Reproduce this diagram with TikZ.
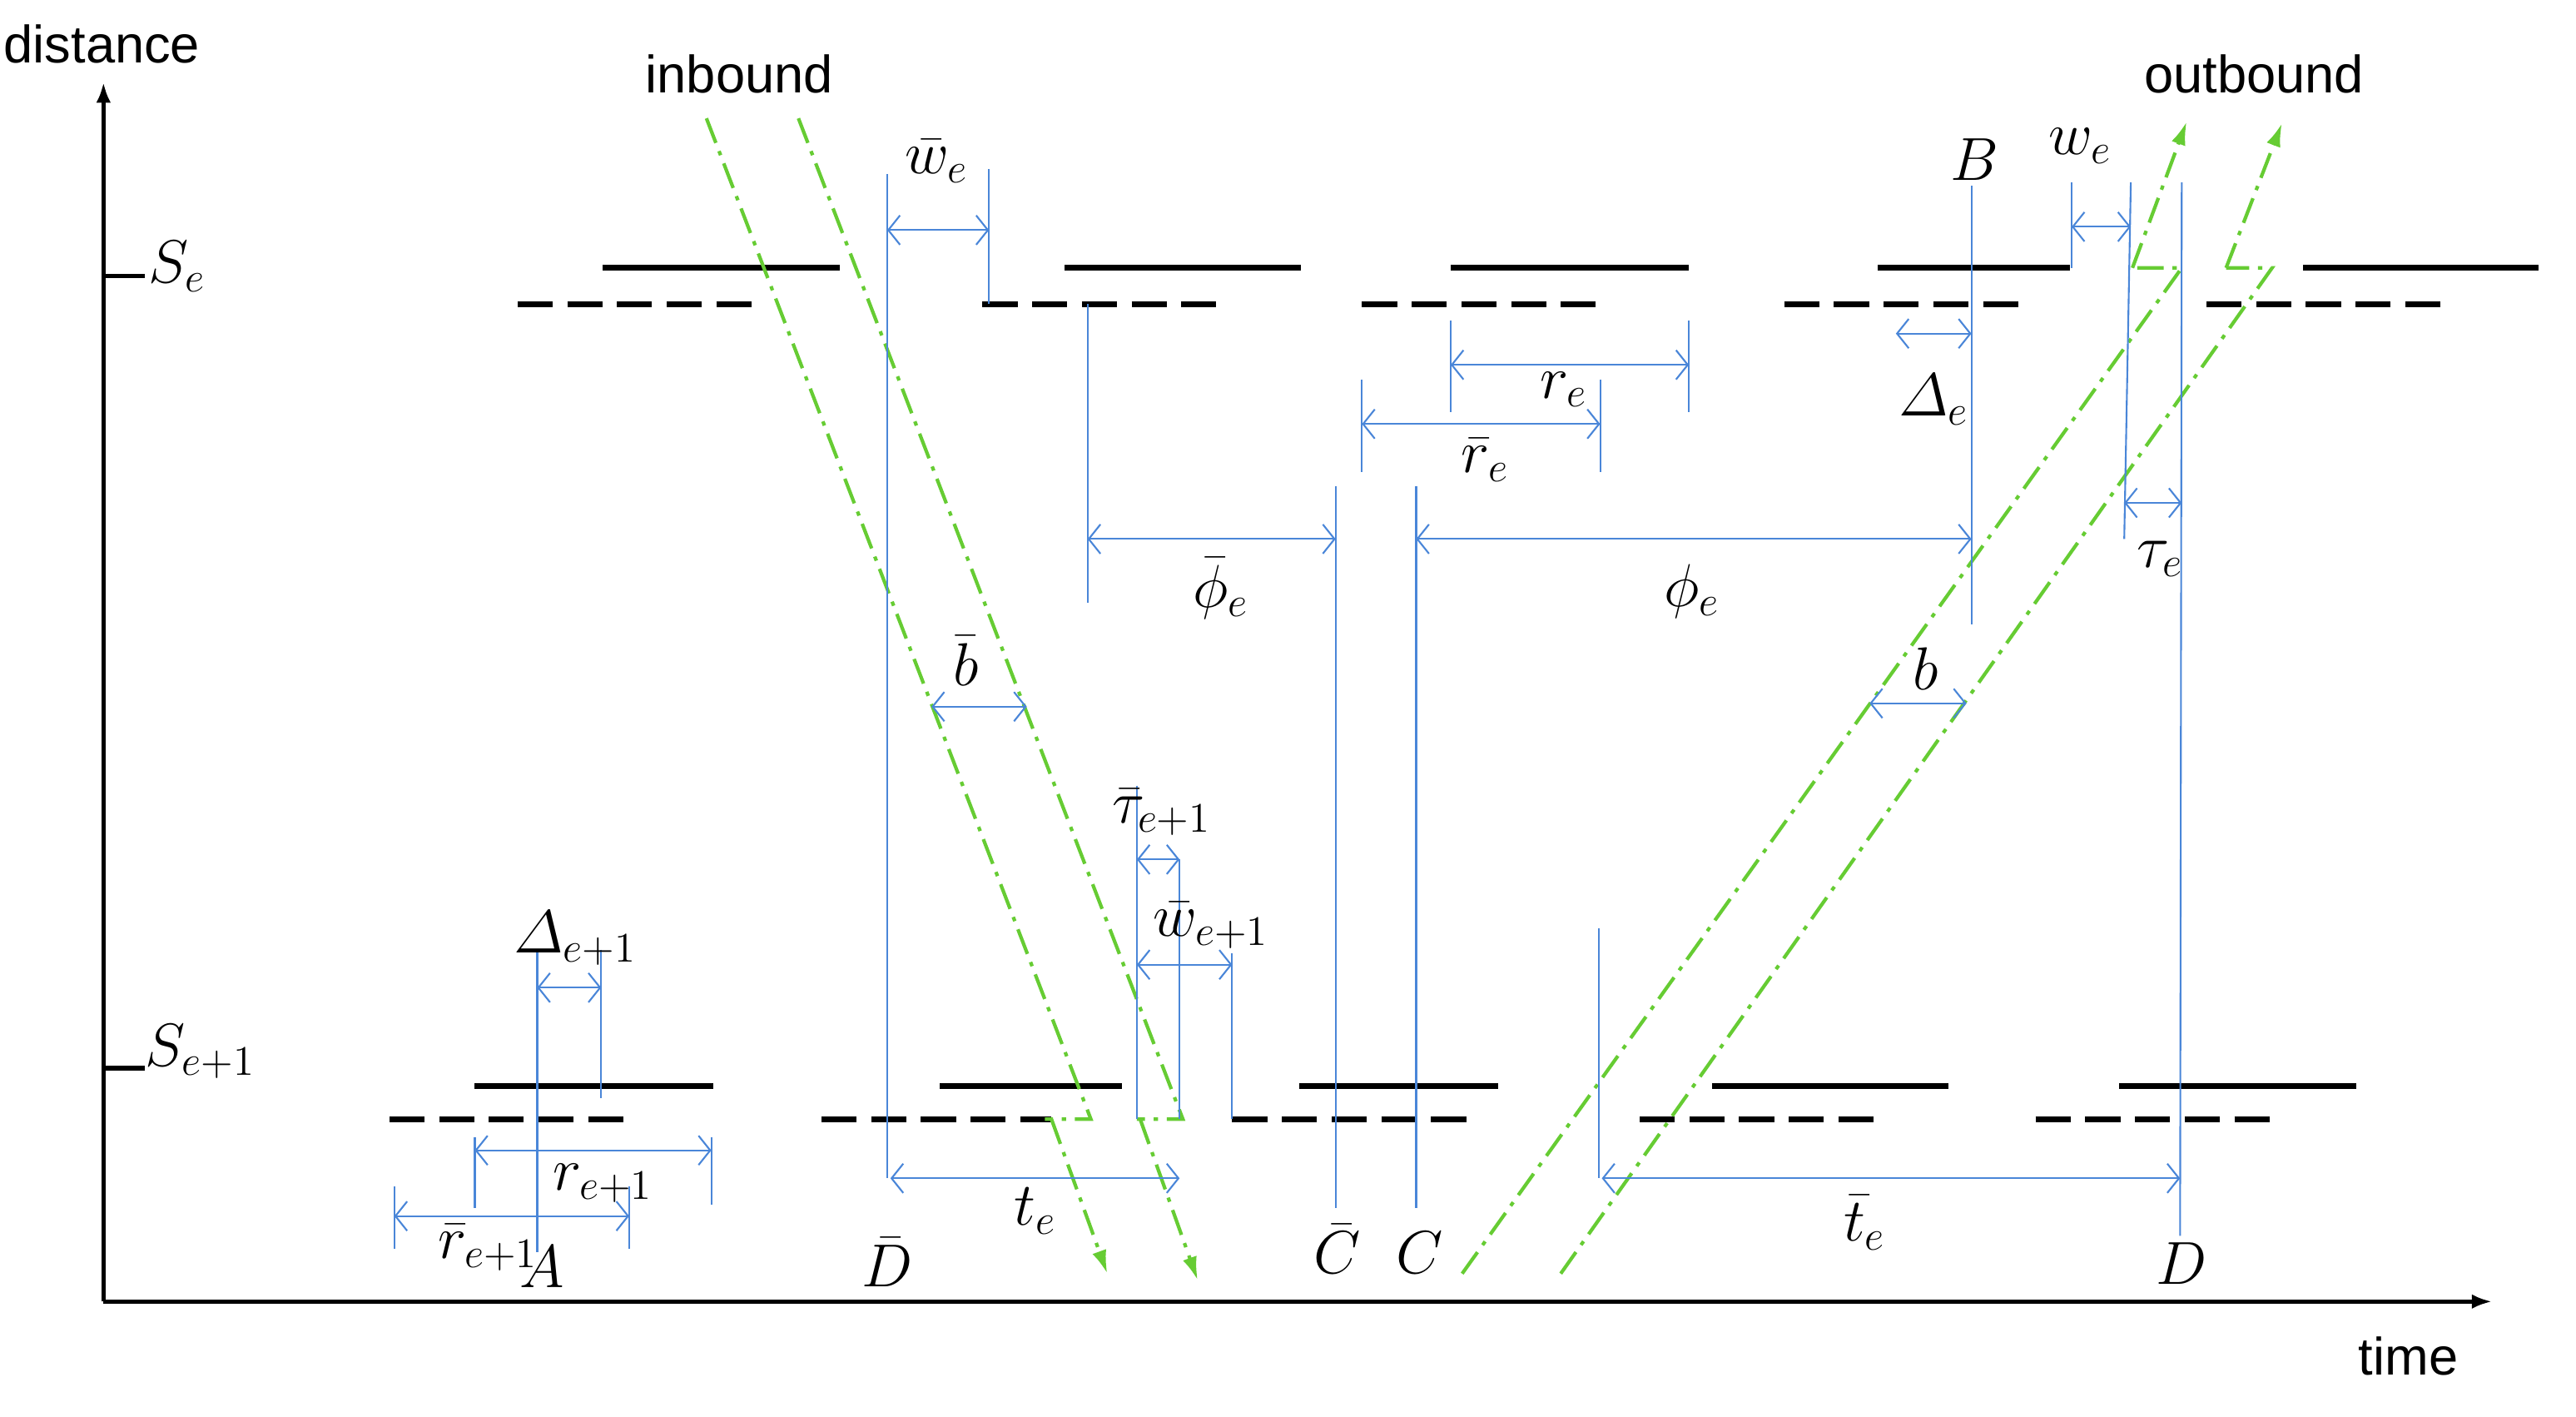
\documentclass[tikz,border=0pt]{standalone}
\usepackage{fontspec}
\setsansfont{Liberation Sans}
\usetikzlibrary{arrows.meta}
\newcommand{\myDelta}{\mathchar"0101}
\definecolor{bl}{HTML}{4A86D8}
\definecolor{gr}{HTML}{66CC33}
\tikzset{
  axis/.style={line width=1.6pt,-{Latex[length=7pt,width=5pt]}},
  sol/.style={line width=2pt},
  dsh/.style={line width=2pt,dash pattern=on 12pt off 5pt},
  bline/.style={bl,line width=0.6pt},
  barr/.style={bl,line width=0.6pt,{Straight Barb[length=4pt,width=10pt]}-{Straight Barb[length=4pt,width=10pt]}},
  grn/.style={gr,line width=1.2pt,dash pattern=on 9pt off 3pt on 1.5pt off 3pt},
  grnarr/.style={grn,-{Latex[length=8pt,width=5pt]}},
  lbl/.style={font=\fontsize{20}{22}\selectfont},
  wrd/.style={font=\sffamily\fontsize{18}{22}\selectfont},
}
\begin{document}
\begin{tikzpicture}[x=0.01974cm,y=-0.01974cm]
\useasboundingbox (0,0) rectangle (1568,862);
% axes
\coordinate (O) at (63,792);
\coordinate (Ytop) at (63,50);
\coordinate (Xend) at (1517,792);
\draw[axis] (O) -- (Ytop);
\draw[axis] (O) -- (Xend);
\node[wrd] (dist) at (62,27) {distance};
\node[wrd] (time) at (1466,825) {time};
\node[wrd] (inb) at (450,45) {inbound};
\node[wrd] (outb) at (1372,45) {outbound};
\draw[line width=1.6pt] (63,168) -- (88,168);
\draw[line width=1.6pt] (63,650) -- (88,650);
\node[lbl] (se) at (108,162) {$S_e$};
\node[lbl] (se1) at (122,640) {$S_{e+1}$};
% black lines top
\foreach \a/\b in {367/511,648/792,883/1028,1143/1260,1402/1545} \draw[sol] (\a,163) -- (\b,163);
\foreach \a/\b in {315/460,598/740,829/973,1086/1230,1343/1487} \draw[dsh] (\a,185) -- (\b,185);
% black lines bottom
\foreach \a/\b in {289/434,572/683,791/912,1042/1186,1290/1434} \draw[sol] (\a,661) -- (\b,661);
\foreach \a/\b in {237/383,500/640,750/900,998/1142,1239/1383} \draw[dsh] (\a,681) -- (\b,681);
% green trajectories
\draw[grn] (430,72) -- (664,681) -- (636,681);
\draw[grnarr] (640,681) -- (674,775);
\draw[grn] (486,72) -- (720,681) -- (692,681);
\draw[grnarr] (694,681) -- (729,779);
\draw[grn] (890,775) -- (1328,163) -- (1298,163);
\draw[grnarr] (1298,163) -- (1331,74);
\draw[grn] (950,775) -- (1383,163) -- (1355,163);
\draw[grnarr] (1355,163) -- (1389,75);
% blue verticals
\draw[bline] (540,106) -- (540,717);
\draw[bline] (602,103) -- (602,185);
\draw[bline] (662,185) -- (662,367);
\draw[bline] (813,296) -- (813,735);
\draw[bline] (862,296) -- (862,735);
\draw[bline] (829,231) -- (829,287);
\draw[bline] (974,231) -- (974,287);
\draw[bline] (883,195) -- (883,251);
\draw[bline] (1028,195) -- (1028,251);
\draw[bline] (1200,113) -- (1200,380);
\draw[bline] (1261,111) -- (1261,163);
\draw[bline] (1297,111) -- (1293,328);
\draw[bline] (1328,111) -- (1327,752);
\draw[bline] (973,565) -- (973,717);
\draw[bline] (692,478) -- (692,681);
\draw[bline] (718,523) -- (718,681);
\draw[bline] (750,580) -- (750,681);
\draw[bline] (327,578) -- (327,762);
\draw[bline] (366,578) -- (366,668);
\draw[bline] (289,692) -- (289,735);
\draw[bline] (433,692) -- (433,733);
\draw[bline] (240,722) -- (240,760);
\draw[bline] (383,722) -- (383,760);
% blue arrows
\draw[barr] (540,140) -- (602,140);
\draw[barr] (662,328) -- (813,328);
\draw[barr] (829,258) -- (974,258);
\draw[barr] (883,222) -- (1028,222);
\draw[barr] (862,328) -- (1200,328);
\draw[barr] (1154,203) -- (1200,203);
\draw[barr] (1261,138) -- (1297,138);
\draw[barr] (1293,306) -- (1328,306);
\draw[barr] (567,430) -- (625,430);
\draw[barr] (1138,428) -- (1197,428);
\draw[barr] (975,717) -- (1327,717);
\draw[barr] (542,717) -- (718,717);
\draw[barr] (692,523) -- (718,523);
\draw[barr] (692,587) -- (750,587);
\draw[barr] (327,601) -- (366,601);
\draw[barr] (289,700) -- (433,700);
\draw[barr] (240,740) -- (383,740);
% labels
\node[lbl] (lwb) at (570,98) {$\bar{w}_e$};
\node[lbl] (lpb) at (743,358) {$\bar{\phi}_e$};
\node[lbl] (lrb) at (904,280) {$\bar{r}_e$};
\node[lbl] (lr) at (952,237) {$r_e$};
\node[lbl] (lp) at (1030,360) {$\phi_e$};
\node[lbl] (lB) at (1202,97) {$B$};
\node[lbl] (lw) at (1266,89) {$w_e$};
\node[lbl] (lD) at (1177,243) {$\myDelta_e$};
\node[lbl] (lt) at (1315,340) {$\tau_e$};
\node[lbl] (lbb) at (588,402) {$\bar{b}$};
\node[lbl] (lb) at (1172,407) {$b$};
\node[lbl] (ltb) at (707,494) {$\bar{\tau}_{e+1}$};
\node[lbl] (lwb1) at (737,563) {$\bar{w}_{e+1}$};
\node[lbl] (lD1) at (350,571) {$\myDelta_{e+1}$};
\node[lbl] (lr1) at (367,720) {$r_{e+1}$};
\node[lbl] (lrb1) at (297,759) {$\bar{r}_{e+1}$};
\node[lbl] (lA) at (330,771) {$A$};
\node[lbl] (lDb) at (540,768) {$\bar{D}$};
\node[lbl] (lte) at (630,737) {$t_e$};
\node[lbl] (lCb) at (814,760) {$\bar{C}$};
\node[lbl] (lC) at (864,762) {$C$};
\node[lbl] (ltbe) at (1135,744) {$\bar{t}_e$};
\node[lbl] (lDD) at (1328,769) {$D$};
\end{tikzpicture}
\end{document}
